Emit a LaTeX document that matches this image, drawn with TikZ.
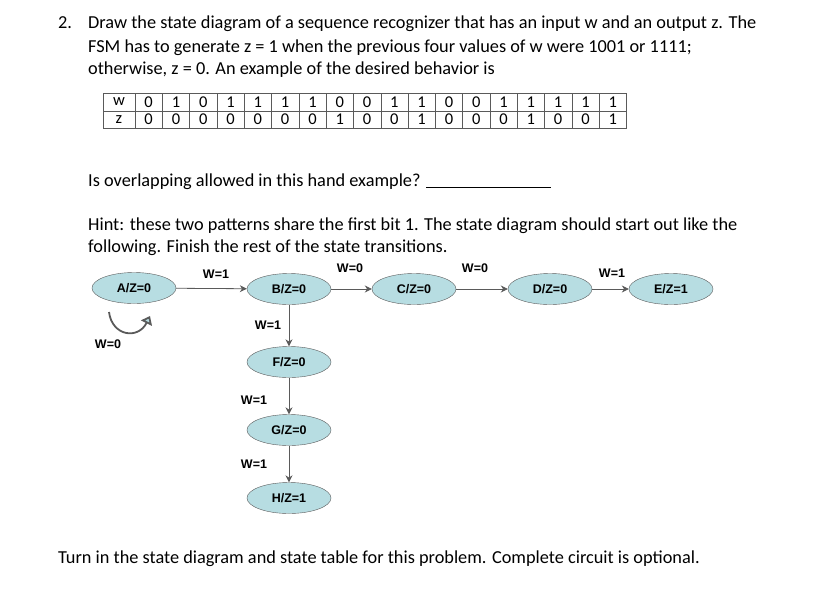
\documentclass[tikz,border=0pt]{standalone}
\usepackage{fontspec}
\setmainfont{Carlito}
\newfontfamily\arialfont{Liberation Sans}
\usetikzlibrary{shapes.geometric,arrows.meta,positioning}
\definecolor{stateteal}{RGB}{183,221,226}
\definecolor{stategray}{RGB}{90,90,90}

\begin{document}
\begin{tikzpicture}[
    x=1pt, y=-1pt,
    >={Stealth[length=7pt,width=7pt]},
    txt/.style={anchor=base west, font=\fontsize{18.3}{21}\selectfont, inner sep=0pt},
    cell/.style={draw=stategray, minimum width=27.3pt, minimum height=17.5pt, inner sep=0pt,
                 font=\fontsize{16.5}{18}\selectfont},
    state/.style={ellipse, draw=stategray, fill=stateteal, minimum width=84pt, minimum height=31pt,
                  font=\arialfont\bfseries\fontsize{12.5}{14}\selectfont},
    lbl/.style={font=\arialfont\bfseries\fontsize{12.5}{14}\selectfont, inner sep=1pt},
    arrow/.style={->, stategray, thick}
]
\useasboundingbox (0,0) rectangle (814,603);

% Problem text
\node[txt] (num) at (58,28) {2.};
\node[txt] (l1) at (88,28) {Draw the state diagram of a sequence recognizer that has an input w and an output z. The};
\node[txt] (l2) at (88,52) {FSM has to generate z = 1 when the previous four values of w were 1001 or 1111;};
\node[txt] (l3) at (88,74) {otherwise, z = 0. An example of the desired behavior is};

% Table
\node[cell, minimum width=32pt] (wh) at (119,102) {w};
\node[cell, minimum width=32pt] (zh) at (119,119.5) {z};
\foreach \w [count=\i] in {0,1,0,1,1,1,1,0,0,1,1,0,0,1,1,1,1,1}
  \node[cell] (w\i) at (135+27.3*\i-13.65,102) {\w};
\foreach \z [count=\i] in {0,0,0,0,0,0,0,1,0,0,1,0,0,0,1,0,0,1}
  \node[cell] (z\i) at (135+27.3*\i-13.65,119.5) {\z};

\node[txt] (ovl) at (88,186) {Is overlapping allowed in this hand example? \rule[-2pt]{125pt}{0.6pt}};
\node[txt] (h1) at (88,230) {Hint: these two patterns share the first bit 1. The state diagram should start out like the};
\node[txt] (h2) at (88,252) {following. Finish the rest of the state transitions.};

% States
\node[state] (a) at (134,288) {A/Z=0};
\node[state] (b) at (289,289) {B/Z=0};
\node[state] (c) at (414,289) {C/Z=0};
\node[state] (d) at (550,289) {D/Z=0};
\node[state] (e) at (671,289) {E/Z=1};
\node[state] (f) at (289,362) {F/Z=0};
\node[state] (g) at (289,430) {G/Z=0};
\node[state] (h) at (289,498) {H/Z=1};

\draw[arrow] (a) -- (b);
\draw[arrow] (b) -- (c);
\draw[arrow] (c) -- (d);
\draw[arrow] (d) -- (e);
\draw[arrow] (b) -- (f);
\draw[arrow] (f) -- (g);
\draw[arrow] (g) -- (h);

% Self loop
\coordinate (ls) at (109,312);
\coordinate (le) at (150,316);
\draw[stategray, line width=1.8pt, -{Triangle[open, fill=stateteal, length=8pt, width=12pt]}]
  (ls) .. controls (112,336) and (138,340) .. (le);

% Labels
\node[lbl] (wab) at (216,274) {W=1};
\node[lbl] (wbc) at (350,268) {W=0};
\node[lbl] (wcd) at (475,268) {W=0};
\node[lbl] (wde) at (612,273) {W=1};
\node[lbl] (wbf) at (268,325) {W=1};
\node[lbl] (wfg) at (254,400) {W=1};
\node[lbl] (wgh) at (254,464) {W=1};
\node[lbl] (waa) at (108,344) {W=0};

\node[txt] (last) at (58,563) {Turn in the state diagram and state table for this problem. Complete circuit is optional.};
\end{tikzpicture}
\end{document}
